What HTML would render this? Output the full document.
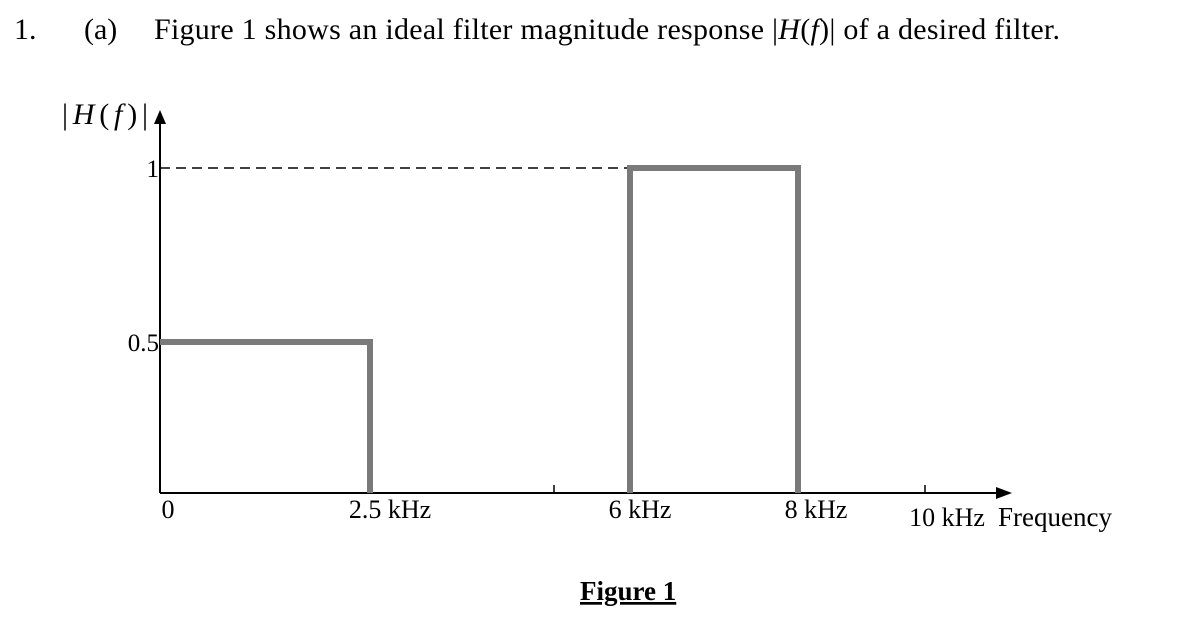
<!DOCTYPE html>
<html><head><meta charset="utf-8"><style>
html,body{margin:0;padding:0;background:#fff;}
svg{display:block;font-family:"Liberation Serif",serif;}
</style></head><body>
<svg id="fig" width="1196" height="635" viewBox="0 0 1196 635">
<text x="14" y="39" font-size="30">1.</text>
<text x="84" y="39" font-size="30">(a)</text>
<text x="154" y="39" font-size="30" textLength="906">Figure 1 shows an ideal filter magnitude response |<tspan font-style="italic">H</tspan>(<tspan font-style="italic">f</tspan>)| of a desired filter.</text>
<text x="62" y="124" font-size="30" textLength="86">|<tspan font-style="italic">H</tspan>(<tspan font-style="italic">f</tspan>)|</text>
<line x1="160" y1="493" x2="160" y2="122" stroke="#000" stroke-width="2"/>
<polygon points="154,124 166,124 160,110" fill="#000"/>
<line x1="160" y1="493" x2="1000" y2="493" stroke="#000" stroke-width="2"/>
<polygon points="996,487 996,499 1012,493" fill="#000"/>
<text x="998" y="526" font-size="27">Frequency</text>
<text x="580" y="600" font-size="27" font-weight="bold" text-decoration="underline">Figure 1</text>
<g id="ticks"></g>
<g id="marks"></g>
</svg>
<script>
const freqKnots = [0, 2.5, 5, 6, 8, 10];
const yKnots = [0, 0.5, 1];
const xTickValues = [0, 2.5, 5, 6, 8, 10];
const xTickLabels = ["0", "2.5 kHz", "", "6 kHz", "8 kHz", "10 kHz"];
const yTickValues = [0.5, 1];
const yTickLabels = ["0.5", "1"];
const lowpassF = [0, 2.5, 2.5];
const lowpassH = [0.5, 0.5, 0];
const bandpassF = [6, 6, 8, 8];
const bandpassH = [0, 1, 1, 0];

const xPix = [160, 370, 554, 630, 798, 925];
const yPix = [493, 342, 168];
function interp(v, ks, ps){
  for(let i=0;i<ks.length-1;i++){
    if(v<=ks[i+1]||i===ks.length-2){
      const t=(v-ks[i])/(ks[i+1]-ks[i]);
      return ps[i]+t*(ps[i+1]-ps[i]);
    }
  }
}
function xs(v){return interp(v,freqKnots,xPix);}
function ys(v){return interp(v,yKnots,yPix);}
const NS="http://www.w3.org/2000/svg";
const ticks=document.getElementById('ticks');
const marks=document.getElementById('marks');
const lblOffsets=[[8,0],[20,0],[0,0],[10,0],[18,0],[22,8]];
xTickValues.forEach((v,i)=>{
  const x=xs(v);
  if(v===5||v===10){
    const t=document.createElementNS(NS,'line');
    t.setAttribute('x1',x);t.setAttribute('x2',x);t.setAttribute('y1',485);t.setAttribute('y2',493);
    t.setAttribute('stroke','#000');t.setAttribute('stroke-width','1.5');
    
    
    ticks.appendChild(t);
  }
  if(xTickLabels[i]){
    const tx=document.createElementNS(NS,'text');
    tx.setAttribute('x',x+lblOffsets[i][0]);tx.setAttribute('y',518+lblOffsets[i][1]);
    tx.setAttribute('font-size','26');tx.setAttribute('text-anchor','middle');
    tx.textContent=xTickLabels[i];
    
    
    ticks.appendChild(tx);
  }
});
yTickValues.forEach((v,i)=>{
  const y=ys(v);
  const tx=document.createElementNS(NS,'text');
  tx.setAttribute('x',159);tx.setAttribute('y',y+9);
  tx.setAttribute('font-size','25');tx.setAttribute('text-anchor','end');
  tx.textContent=yTickLabels[i];
  
  
  ticks.appendChild(tx);
});
const ref=document.createElementNS(NS,'line');
ref.setAttribute('x1',xs(0));ref.setAttribute('x2',xs(6));
ref.setAttribute('y1',ys(1));ref.setAttribute('y2',ys(1));
ref.setAttribute('stroke','#000');ref.setAttribute('stroke-width','1.5');ref.setAttribute('stroke-dasharray','10,6');


ticks.appendChild(ref);
function drawSeries(F,H,name){
  const pts=F.map((f,i)=>xs(f)+','+ys(H[i])).join(' ');
  const pl=document.createElementNS(NS,'polyline');
  pl.setAttribute('points',pts);pl.setAttribute('fill','none');
  pl.setAttribute('stroke','#7a7a7a');pl.setAttribute('stroke-width','6');
  
  
  marks.appendChild(pl);
}
drawSeries(lowpassF,lowpassH,'lowpass-response');
drawSeries(bandpassF,bandpassH,'bandpass-response');
</script>
</body></html>
